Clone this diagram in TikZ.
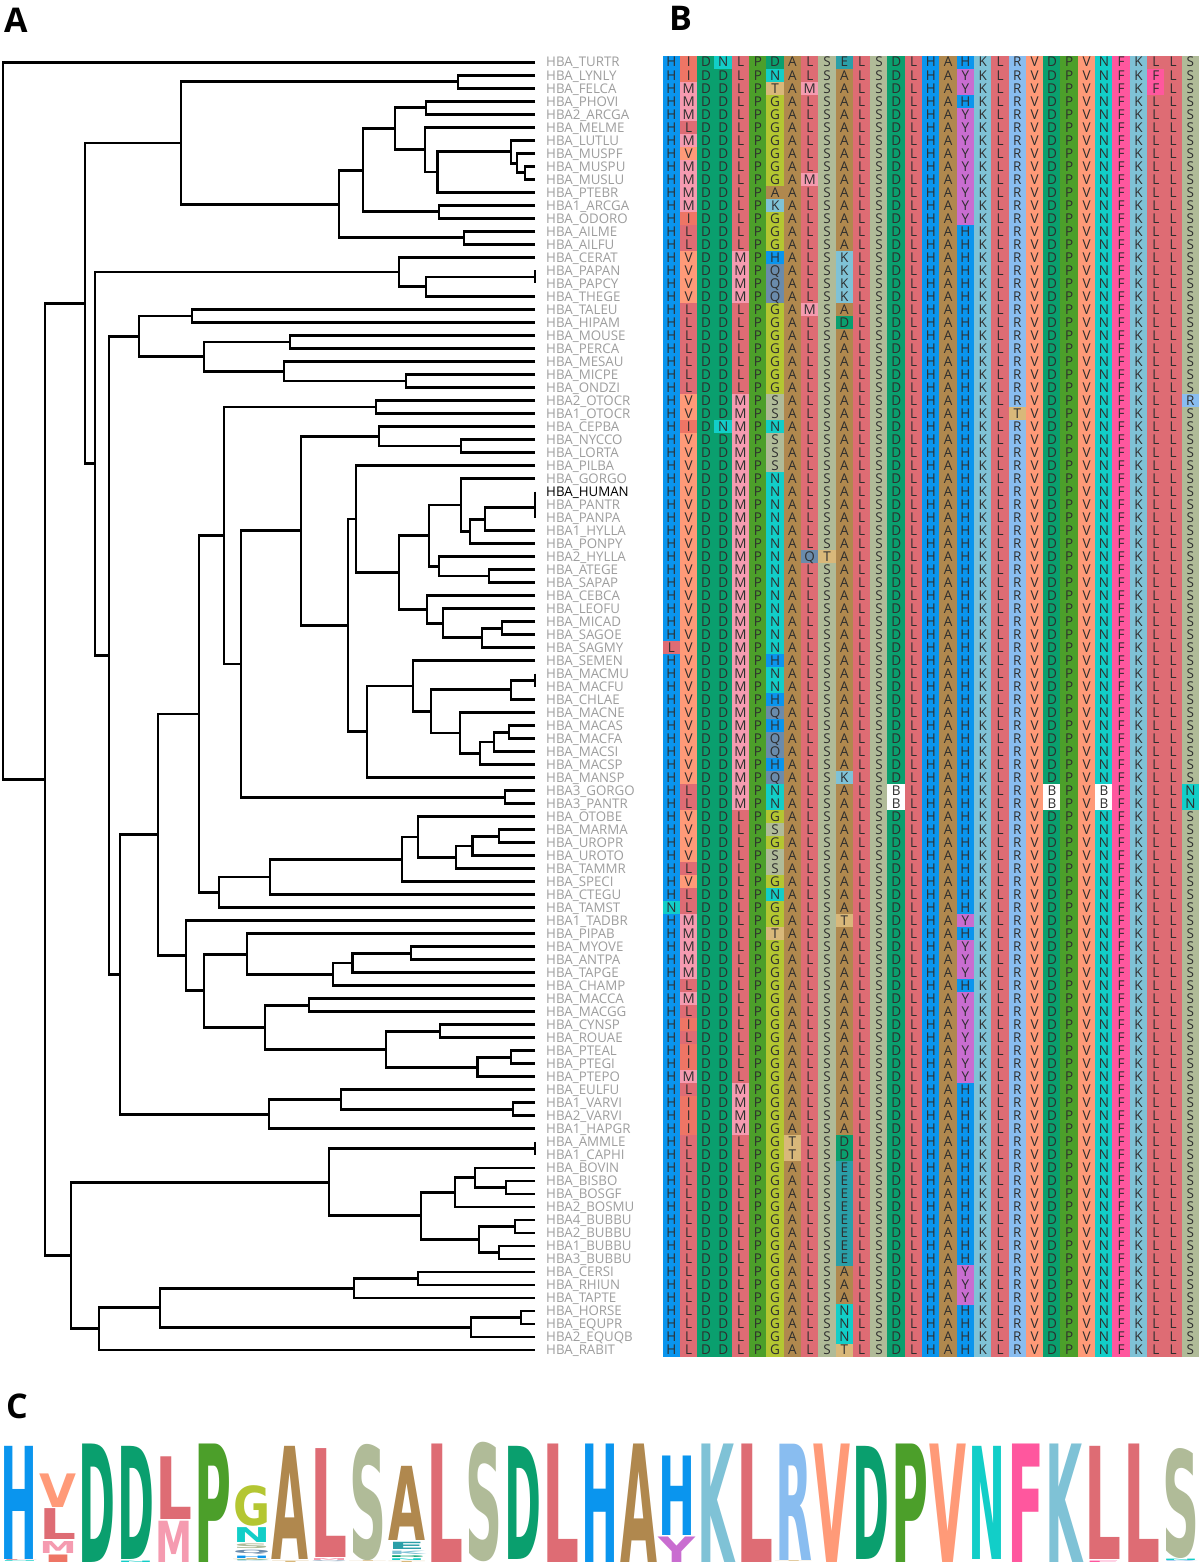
\documentclass[tikz,border=0pt]{standalone}
\usepackage{fontspec}
\setmainfont{Open Sans}
\newfontfamily\logofont{DejaVu Sans}
\usepackage{graphicx}
\usetikzlibrary{calc}
\definecolor{labgrey}{HTML}{9E9E9E}
\definecolor{resH}{HTML}{0A95EE}
\definecolor{resL}{HTML}{DE6C74}
\definecolor{resD}{HTML}{0A9F6E}
\definecolor{resV}{HTML}{FF9A78}
\definecolor{resM}{HTML}{F59BB0}
\definecolor{resI}{HTML}{EE7565}
\definecolor{resP}{HTML}{4C9F2A}
\definecolor{resG}{HTML}{B4C632}
\definecolor{resA}{HTML}{B0884E}
\definecolor{resS}{HTML}{B0BB98}
\definecolor{resK}{HTML}{7FC2D6}
\definecolor{resR}{HTML}{89BDF0}
\definecolor{resY}{HTML}{C96DD0}
\definecolor{resF}{HTML}{FF579E}
\definecolor{resN}{HTML}{12CEC8}
\definecolor{resQ}{HTML}{6A8BAB}
\definecolor{resT}{HTML}{D9B87A}
\definecolor{resE}{HTML}{2A9FA8}
\definecolor{resB}{HTML}{FFFFFF}
% tree node: name, x, child1, child2
\newcommand\tn[4]{%
  \path let \p1=($(#3)!.5!(#4)$) in (#2pt,\y1) coordinate (#1);
  \draw[treeline] (#3) -- (#3 -| #1) -- (#4 -| #1) -- (#4);}
% alignment: default column stripes, then differing cells
\newcount\colk
\newcommand\setdef[1]{\colk=0 \defparse#1\relax}
\def\defparse#1{\ifx#1\relax\else\defcell{#1}\expandafter\defparse\fi}
\newcommand\defcell[1]{\advance\colk by 1
  \expandafter\def\csname dc\the\colk\endcsname{#1}%
  \pgfmathsetmacro\cx{662.5+17.3*(\the\colk-1)}%
  \fill[res#1] (\cx,55.8) rectangle ++(17.35,1300.7);}
\newcommand\alrow[2]{%
  \colk=0
  \pgfmathsetmacro\cy{55.8+13.007*(#1-1)}%
  \alparse#2\relax
  \node[rowtxt] (row#1) at (662.5,\cy+11.2) {\cbrow#2\relax};}
\def\alparse#1{\ifx#1\relax\else\alcell{#1}\expandafter\alparse\fi}
\newcommand\alcell[1]{\advance\colk by 1
  \if#1\csname dc\the\colk\endcsname\else
    \pgfmathsetmacro\cx{662.5+17.3*(\the\colk-1)}%
    \fill[res#1] (\cx,\cy) rectangle ++(17.35,13.05);
  \fi}
\def\cbrow#1{\ifx#1\relax\else\makebox[17.3pt]{#1}\expandafter\cbrow\fi}
% logo columns
\newcommand\logocol[3]{%
  \gdef\ybase{1562}%
  \pgfmathsetmacro\lx{38.7*(#1-1)+1}%
  \foreach \lt/\fq in {#3}{%
    \pgfmathsetmacro\hh{\fq*#2}%
    \pgfmathsetmacro\hd{(\hh>3)?(\hh-1.5):(\hh*0.6)}%
    \node[logo] (lg#1\lt) at (\lx,\ybase) {\resizebox*{37pt}{\hd pt}{\logofont\bfseries\textcolor{res\lt}{\lt}}};
    \pgfmathsetmacro\ynew{\ybase-\hh}%
    \xdef\ybase{\ynew}%
  }}
\begin{document}
\begin{tikzpicture}[x=1pt,y=-1pt,
  treeline/.style={line width=2.8pt, line join=miter, black},
  lab/.style={font=\fontsize{13.3}{14}\selectfont, text=labgrey, inner sep=0, anchor=base west},
  rowtxt/.style={font=\fontsize{13.5}{14}\selectfont, text=black!82, inner sep=0, anchor=base west},
  panel/.style={font=\fontsize{34}{36}\selectfont\bfseries, inner sep=0, anchor=base west},
  logo/.style={inner sep=0, outer sep=0, anchor=south west}]
\useasboundingbox (0,0) rectangle (1200,1565);
\fill[white] (0,0) rectangle (1200,1565);
% panel letters
\node[panel] (pA) at (4,33) {A};
\node[panel] (pB) at (669,31) {B};
\node[panel] (pC) at (6,1418) {C};
% leaves and labels
\foreach \n [count=\i] in {HBA\_TURTR, HBA\_LYNLY, HBA\_FELCA, HBA\_PHOVI, HBA2\_ARCGA, HBA\_MELME, HBA\_LUTLU, HBA\_MUSPF, HBA\_MUSPU, HBA\_MUSLU, HBA\_PTEBR, HBA1\_ARCGA, HBA\_ODORO, HBA\_AILME, HBA\_AILFU, HBA\_CERAT, HBA\_PAPAN, HBA\_PAPCY, HBA\_THEGE, HBA\_TALEU, HBA\_HIPAM, HBA\_MOUSE, HBA\_PERCA, HBA\_MESAU, HBA\_MICPE, HBA\_ONDZI, HBA2\_OTOCR, HBA1\_OTOCR, HBA\_CEPBA, HBA\_NYCCO, HBA\_LORTA, HBA\_PILBA, HBA\_GORGO, {\color{black}HBA\_HUMAN}, HBA\_PANTR, HBA\_PANPA, HBA1\_HYLLA, HBA\_PONPY, HBA2\_HYLLA, HBA\_ATEGE, HBA\_SAPAP, HBA\_CEBCA, HBA\_LEOFU, HBA\_MICAD, HBA\_SAGOE, HBA\_SAGMY, HBA\_SEMEN, HBA\_MACMU, HBA\_MACFU, HBA\_CHLAE, HBA\_MACNE, HBA\_MACAS, HBA\_MACFA, HBA\_MACSI, HBA\_MACSP, HBA\_MANSP, HBA3\_GORGO, HBA3\_PANTR, HBA\_OTOBE, HBA\_MARMA, HBA\_UROPR, HBA\_UROTO, HBA\_TAMMR, HBA\_SPECI, HBA\_CTEGU, HBA\_TAMST, HBA1\_TADBR, HBA\_PIPAB, HBA\_MYOVE, HBA\_ANTPA, HBA\_TAPGE, HBA\_CHAMP, HBA\_MACCA, HBA\_MACGG, HBA\_CYNSP, HBA\_ROUAE, HBA\_PTEAL, HBA\_PTEGI, HBA\_PTEPO, HBA\_EULFU, HBA1\_VARVI, HBA2\_VARVI, HBA1\_HAPGR, HBA\_AMMLE, HBA1\_CAPHI, HBA\_BOVIN, HBA\_BISBO, HBA\_BOSGF, HBA2\_BOSMU, HBA4\_BUBBU, HBA2\_BUBBU, HBA1\_BUBBU, HBA3\_BUBBU, HBA\_CERSI, HBA\_RHIUN, HBA\_TAPTE, HBA\_HORSE, HBA\_EQUPR, HBA2\_EQUQB, HBA\_RABIT}{
  \pgfmathsetmacro\ly{62.3+13.007*(\i-1)}
  \coordinate (L\i) at (535,\ly);
  \node[lab] (lab\i) at (546,\ly+4.7) {\n};
}
% tree
\tn{n458}{458}{L2}{L3}
\tn{n426a}{426}{L4}{L5}
\tn{n525}{525}{L9}{L10}
\tn{n517}{517}{L8}{n525}
\tn{n511}{511}{L7}{n517}
\tn{n437}{437.5}{n511}{L11}
\tn{n425}{425}{L6}{n437}
\tn{n395}{395}{n426a}{n425}
\tn{n439a}{439}{L12}{L13}
\tn{n363}{363}{n395}{n439a}
\tn{n464}{464}{L14}{L15}
\tn{n339}{339}{n363}{n464}
\tn{n181}{181}{n458}{n339}
\tn{k535}{535}{L17}{L18}
\tn{n426b}{426}{k535}{L19}
\tn{n399a}{399}{L16}{n426b}
\tn{n192}{192}{L20}{L21}
\tn{n290}{290}{L22}{L23}
\tn{n406}{406}{L25}{L26}
\tn{n284}{284}{L24}{n406}
\tn{n204}{204}{n290}{n284}
\tn{n139}{139}{n192}{n204}
\tn{n376}{376}{L27}{L28}
\tn{n461a}{461}{L30}{L31}
\tn{n379}{379}{L29}{n461a}
\tn{z1}{535}{L34}{L35}
\tn{z2}{535}{z1}{L36}
\tn{n485}{485}{z2}{L37}
\tn{n470}{470}{n485}{L38}
\tn{n461b}{461}{L33}{n470}
\tn{n489}{489}{L40}{L41}
\tn{n439b}{439}{L39}{n489}
\tn{n429a}{429}{n461b}{n439b}
\tn{n502}{502}{L44}{L45}
\tn{n482}{482}{n502}{L46}
\tn{n443}{443}{L43}{n482}
\tn{n427}{427}{L42}{n443}
\tn{n399b}{399}{n429a}{n427}
\tn{n356}{356}{L32}{n399b}
\tn{z3}{535}{L48}{L49}
\tn{n511b}{511}{z3}{L50}
\tn{n509}{509}{L52}{L53}
\tn{n494}{494}{n509}{L54}
\tn{n480}{480}{n494}{L55}
\tn{n460}{460}{L51}{n480}
\tn{n431}{431}{n511b}{n460}
\tn{n413}{413}{L47}{n431}
\tn{n367}{367}{n413}{L56}
\tn{n348}{348}{n356}{n367}
\tn{n301}{301}{n379}{n348}
\tn{n505}{505}{L57}{L58}
\tn{n241}{241}{n301}{n505}
\tn{n224}{224}{n376}{n241}
\tn{n499}{499}{L60}{L61}
\tn{n472}{472.5}{n499}{L62}
\tn{n456}{456}{n472}{L63}
\tn{n418}{418}{L59}{n456}
\tn{n402}{402}{n418}{L64}
\tn{n270}{270}{n402}{L65}
\tn{n219}{219}{n270}{L66}
\tn{n199}{199}{n224}{n219}
\tn{n411}{411}{L69}{L70}
\tn{n352}{352.5}{n411}{L71}
\tn{n333}{333}{n352}{L72}
\tn{n247}{247}{L68}{n333}
\tn{n309}{309}{L73}{L74}
\tn{n440}{440}{L75}{L76}
\tn{n511c}{511}{L77}{L78}
\tn{n477}{477.5}{n511c}{L79}
\tn{n386}{386}{n440}{n477}
\tn{n265}{265}{n309}{n386}
\tn{n204b}{204}{n247}{n265}
\tn{n186}{186}{L67}{n204b}
\tn{n158}{158}{n199}{n186}
\tn{n513}{513}{L81}{L82}
\tn{n341}{341}{L80}{n513}
\tn{n269}{269}{n341}{L83}
\tn{n120}{120}{n158}{n269}
\tn{n109}{109}{n139}{n120}
\tn{n95}{95}{n399a}{n109}
\tn{n85}{85}{n181}{n95}
\tn{z4}{535}{L84}{L85}
\tn{n506}{506}{L87}{L88}
\tn{n475}{475}{L86}{n506}
\tn{n455}{455}{n475}{L89}
\tn{n515}{515}{L90}{L91}
\tn{n499b}{499}{L92}{L93}
\tn{n479}{479}{n515}{n499b}
\tn{n421}{421}{n455}{n479}
\tn{n329}{329}{z4}{n421}
\tn{n418b}{418}{L94}{L95}
\tn{n354}{354}{n418b}{L96}
\tn{n521}{521}{L97}{L98}
\tn{n471}{471}{n521}{L99}
\tn{n160}{160}{n354}{n471}
\tn{n99}{99}{n160}{L100}
\tn{n71}{71}{n329}{n99}
\tn{n45}{45}{n85}{n71}
\tn{root}{3}{L1}{n45}
% alignment
\setdef{HVDDLPGALSALSDLHAHKLRVDPVNFKLLS}
\alrow{1}{HIDNLPDALSELSDLHAHKLRVDPVNFKLLS}
\alrow{2}{HIDDLPNALSALSDLHAYKLRVDPVNFKFLS}
\alrow{3}{HMDDLPTAMSALSDLHAYKLRVDPVNFKFLS}
\alrow{4}{HMDDLPGALSALSDLHAHKLRVDPVNFKLLS}
\alrow{5}{HMDDLPGALSALSDLHAYKLRVDPVNFKLLS}
\alrow{6}{HLDDLPGALSALSDLHAYKLRVDPVNFKLLS}
\alrow{7}{HMDDLPGALSALSDLHAYKLRVDPVNFKLLS}
\alrow{8}{HVDDLPGALSALSDLHAYKLRVDPVNFKLLS}
\alrow{9}{HMDDLPGALSALSDLHAYKLRVDPVNFKLLS}
\alrow{10}{HMDDLPGAMSALSDLHAYKLRVDPVNFKLLS}
\alrow{11}{HMDDLPAALSALSDLHAYKLRVDPVNFKLLS}
\alrow{12}{HMDDLPKALSALSDLHAYKLRVDPVNFKLLS}
\alrow{13}{HIDDLPGALSALSDLHAYKLRVDPVNFKLLS}
\alrow{14}{HLDDLPGALSALSDLHAHKLRVDPVNFKLLS}
\alrow{15}{HLDDLPGALSALSDLHAHKLRVDPVNFKLLS}
\alrow{16}{HVDDMPHALSKLSDLHAHKLRVDPVNFKLLS}
\alrow{17}{HVDDMPQALSKLSDLHAHKLRVDPVNFKLLS}
\alrow{18}{HVDDMPQALSKLSDLHAHKLRVDPVNFKLLS}
\alrow{19}{HVDDMPQALSKLSDLHAHKLRVDPVNFKLLS}
\alrow{20}{HLDDLPGAMSALSDLHAHKLRVDPVNFKLLS}
\alrow{21}{HLDDLPGALSDLSDLHAHKLRVDPVNFKLLS}
\alrow{22}{HLDDLPGALSALSDLHAHKLRVDPVNFKLLS}
\alrow{23}{HLDDLPGALSALSDLHAHKLRVDPVNFKLLS}
\alrow{24}{HLDDLPGALSALSDLHAHKLRVDPVNFKLLS}
\alrow{25}{HLDDLPGALSALSDLHAHKLRVDPVNFKLLS}
\alrow{26}{HLDDLPGALSALSDLHAHKLRVDPVNFKLLS}
\alrow{27}{HVDDMPSALSALSDLHAHKLRVDPVNFKLLR}
\alrow{28}{HVDDMPSALSALSDLHAHKLTVDPVNFKLLS}
\alrow{29}{HIDNMPNALSALSDLHAHKLRVDPVNFKLLS}
\alrow{30}{HVDDMPSALSALSDLHAHKLRVDPVNFKLLS}
\alrow{31}{HVDDMPSALSALSDLHAHKLRVDPVNFKLLS}
\alrow{32}{HVDDMPSALSALSDLHAHKLRVDPVNFKLLS}
\alrow{33}{HVDDMPNALSALSDLHAHKLRVDPVNFKLLS}
\alrow{34}{HVDDMPNALSALSDLHAHKLRVDPVNFKLLS}
\alrow{35}{HVDDMPNALSALSDLHAHKLRVDPVNFKLLS}
\alrow{36}{HVDDMPNALSALSDLHAHKLRVDPVNFKLLS}
\alrow{37}{HVDDMPNALSALSDLHAHKLRVDPVNFKLLS}
\alrow{38}{HVDDMPNALSALSDLHAHKLRVDPVNFKLLS}
\alrow{39}{HVDDMPNAQTALSDLHAHKLRVDPVNFKLLS}
\alrow{40}{HVDDMPNALSALSDLHAHKLRVDPVNFKLLS}
\alrow{41}{HVDDMPNALSALSDLHAHKLRVDPVNFKLLS}
\alrow{42}{HVDDMPNALSALSDLHAHKLRVDPVNFKLLS}
\alrow{43}{HVDDMPNALSALSDLHAHKLRVDPVNFKLLS}
\alrow{44}{HVDDMPNALSALSDLHAHKLRVDPVNFKLLS}
\alrow{45}{HVDDMPNALSALSDLHAHKLRVDPVNFKLLS}
\alrow{46}{LVDDMPNALSALSDLHAHKLRVDPVNFKLLS}
\alrow{47}{HVDDMPHALSALSDLHAHKLRVDPVNFKLLS}
\alrow{48}{HVDDMPNALSALSDLHAHKLRVDPVNFKLLS}
\alrow{49}{HVDDMPNALSALSDLHAHKLRVDPVNFKLLS}
\alrow{50}{HVDDMPHALSALSDLHAHKLRVDPVNFKLLS}
\alrow{51}{HVDDMPQALSALSDLHAHKLRVDPVNFKLLS}
\alrow{52}{HVDDMPHALSALSDLHAHKLRVDPVNFKLLS}
\alrow{53}{HVDDMPQALSALSDLHAHKLRVDPVNFKLLS}
\alrow{54}{HVDDMPQALSALSDLHAHKLRVDPVNFKLLS}
\alrow{55}{HVDDMPHALSALSDLHAHKLRVDPVNFKLLS}
\alrow{56}{HVDDMPQALSKLSDLHAHKLRVDPVNFKLLS}
\alrow{57}{HLDDMPNALSALSBLHAHKLRVBPVBFKLLN}
\alrow{58}{HLDDMPNALSALSBLHAHKLRVBPVBFKLLN}
\alrow{59}{HVDDLPGALSALSDLHAHKLRVDPVNFKLLS}
\alrow{60}{HVDDLPSALSALSDLHAHKLRVDPVNFKLLS}
\alrow{61}{HVDDLPGALSALSDLHAHKLRVDPVNFKLLS}
\alrow{62}{HVDDLPSALSALSDLHAHKLRVDPVNFKLLS}
\alrow{63}{HLDDLPSALSALSDLHAHKLRVDPVNFKLLS}
\alrow{64}{HVDDLPGALSALSDLHAHKLRVDPVNFKLLS}
\alrow{65}{HLDDLPNALSALSDLHAHKLRVDPVNFKLLS}
\alrow{66}{NLDDLPGALSALSDLHAHKLRVDPVNFKLLS}
\alrow{67}{HMDDLPGALSTLSDLHAYKLRVDPVNFKLLS}
\alrow{68}{HMDDLPTALSALSDLHAHKLRVDPVNFKLLS}
\alrow{69}{HMDDLPGALSALSDLHAYKLRVDPVNFKLLS}
\alrow{70}{HMDDLPGALSALSDLHAYKLRVDPVNFKLLS}
\alrow{71}{HMDDLPGALSALSDLHAYKLRVDPVNFKLLS}
\alrow{72}{HLDDLPGALSALSDLHAHKLRVDPVNFKLLS}
\alrow{73}{HMDDLPGALSALSDLHAYKLRVDPVNFKLLS}
\alrow{74}{HLDDLPGALSALSDLHAYKLRVDPVNFKLLS}
\alrow{75}{HIDDLPGALSALSDLHAYKLRVDPVNFKLLS}
\alrow{76}{HLDDLPGALSALSDLHAYKLRVDPVNFKLLS}
\alrow{77}{HIDDLPGALSALSDLHAYKLRVDPVNFKLLS}
\alrow{78}{HIDDLPGALSALSDLHAYKLRVDPVNFKLLS}
\alrow{79}{HMDDLPGALSALSDLHAYKLRVDPVNFKLLS}
\alrow{80}{HLDDMPGALSALSDLHAHKLRVDPVNFKLLS}
\alrow{81}{HIDDMPGALSALSDLHAHKLRVDPVNFKLLS}
\alrow{82}{HIDDMPGALSALSDLHAHKLRVDPVNFKLLS}
\alrow{83}{HIDDMPGALSALSDLHAHKLRVDPVNFKLLS}
\alrow{84}{HLDDLPGTLSDLSDLHAHKLRVDPVNFKLLS}
\alrow{85}{HLDDLPGTLSDLSDLHAHKLRVDPVNFKLLS}
\alrow{86}{HLDDLPGALSELSDLHAHKLRVDPVNFKLLS}
\alrow{87}{HLDDLPGALSELSDLHAHKLRVDPVNFKLLS}
\alrow{88}{HLDDLPGALSELSDLHAHKLRVDPVNFKLLS}
\alrow{89}{HLDDLPGALSELSDLHAHKLRVDPVNFKLLS}
\alrow{90}{HLDDLPGALSELSDLHAHKLRVDPVNFKLLS}
\alrow{91}{HLDDLPGALSELSDLHAHKLRVDPVNFKLLS}
\alrow{92}{HLDDLPGALSELSDLHAHKLRVDPVNFKLLS}
\alrow{93}{HLDDLPGALSELSDLHAHKLRVDPVNFKLLS}
\alrow{94}{HLDDLPGALSALSDLHAYKLRVDPVNFKLLS}
\alrow{95}{HLDDLPGALSALSDLHAYKLRVDPVNFKLLS}
\alrow{96}{HLDDLPGALSALSDLHAYKLRVDPVNFKLLS}
\alrow{97}{HLDDLPGALSNLSDLHAHKLRVDPVNFKLLS}
\alrow{98}{HLDDLPGALSNLSDLHAHKLRVDPVNFKLLS}
\alrow{99}{HLDDLPGALSNLSDLHAHKLRVDPVNFKLLS}
\alrow{100}{HLDDLPGALSTLSDLHAHKLRVDPVNFKLLS}
% sequence logo
\logocol{1}{117}{N/.01,L/.01,H/.98}
\logocol{2}{90}{I/.10,M/.15,L/.36,V/.39}
\logocol{3}{120}{D/1}
\logocol{4}{117}{N/.02,D/.98}
\logocol{5}{107}{M/.40,L/.60}
\logocol{6}{120}{P/1}
\logocol{7}{78}{K/.01,A/.01,D/.01,T/.02,H/.05,Q/.07,S/.08,N/.21,G/.54}
\logocol{8}{117}{T/.02,A/.98}
\logocol{9}{115}{Q/.01,M/.03,L/.96}
\logocol{10}{119}{T/.01,S/.99}
\logocol{11}{97}{T/.02,N/.03,D/.03,K/.05,E/.09,A/.78}
\logocol{12}{120}{L/1}
\logocol{13}{121}{S/1}
\logocol{14}{117}{B/.02,D/.98}
\logocol{15}{120}{L/1}
\logocol{16}{120}{H/1}
\logocol{17}{120}{A/1}
\logocol{18}{108}{Y/.25,H/.75}
\logocol{19}{120}{K/1}
\logocol{20}{120}{L/1}
\logocol{21}{119}{T/.01,R/.99}
\logocol{22}{120}{V/1}
\logocol{23}{117}{B/.02,D/.98}
\logocol{24}{120}{P/1}
\logocol{25}{120}{V/1}
\logocol{26}{117}{B/.02,N/.98}
\logocol{27}{120}{F/1}
\logocol{28}{120}{K/1}
\logocol{29}{117}{F/.02,L/.98}
\logocol{30}{120}{L/1}
\logocol{31}{115}{R/.01,N/.02,S/.97}
\end{tikzpicture}
\end{document}
